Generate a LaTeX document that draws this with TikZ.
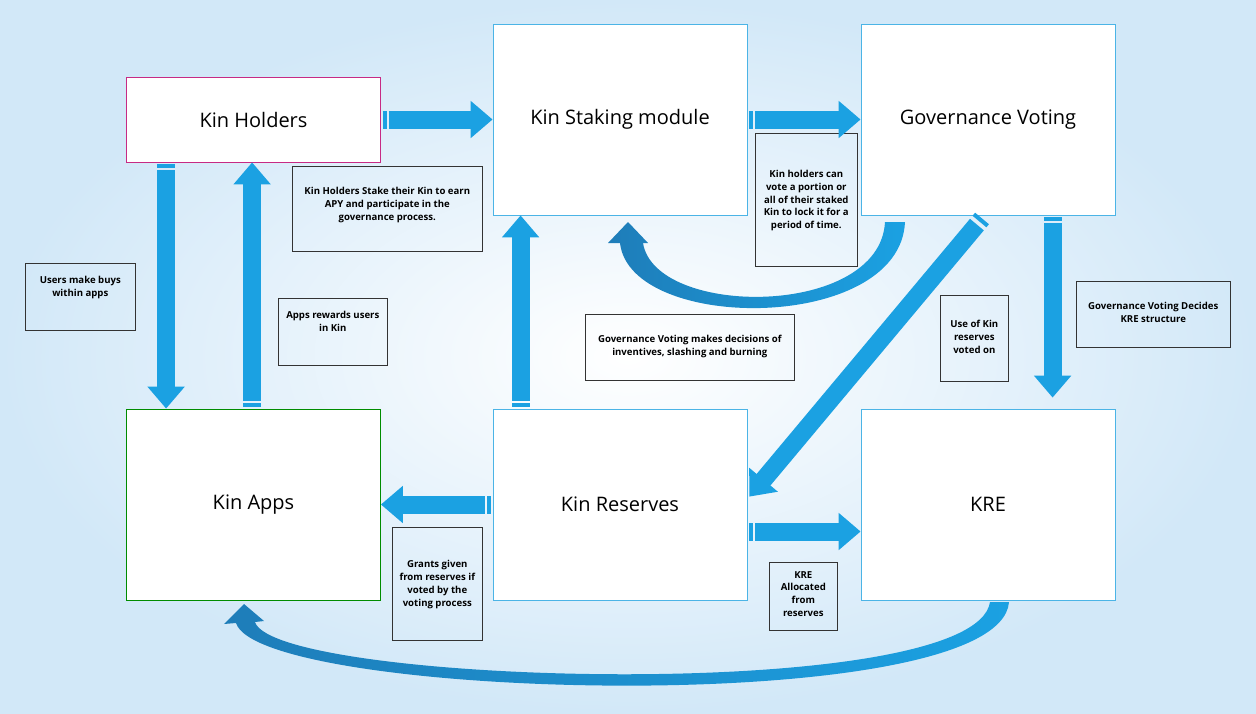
\documentclass[tikz,border=0pt]{standalone}
\usepackage{fontspec}
\setmainfont{Open Sans}
\usetikzlibrary{arrows.meta,calc}
\definecolor{ab}{RGB}{27,161,226}
\definecolor{abd}{RGB}{30,125,185}
\definecolor{bgo}{RGB}{210,232,248}
\definecolor{bx}{RGB}{75,180,230}
\newcommand\labx[6]{\node[lab,anchor=north west] (#1) at (#2,#3) {\begin{minipage}[t][#5pt][t]{#4pt}\centering\vspace{9pt}#6\end{minipage}};}
\begin{document}
\begin{tikzpicture}[x=1pt,y=-1pt,
 big/.style={draw=bx,fill=white,line width=0.8pt,minimum width=254pt,minimum height=191pt,inner sep=0pt,font=\fontsize{20}{24}\selectfont},
 lab/.style={draw=black!80,line width=0.6pt,inner sep=0pt,font=\bfseries\fontsize{9.6}{12.8}\selectfont},
 blk/.style={draw=ab,line width=18pt,-{Triangle[width=36pt,length=22pt]}},
 tl/.style={draw=ab,line width=18pt}]
\useasboundingbox (0,0) rectangle (1256,713);
\shade[inner color=white,outer color=bgo] (0,0) rectangle (1256,713);
% big boxes
\node[big,draw=magenta!80!black,minimum height=85pt] (holders) at (253.5,119.5) {Kin Holders};
\node[big] (staking) at (620,119.5) {Kin Staking module};
\node[big] (gov) at (988,119.5) {Governance Voting};
\node[big,draw=green!55!black] (apps) at (253.5,504.5) {Kin Apps};
\node[big] (res) at (620,504.5) {Kin Reserves};
\node[big] (kre) at (988,504.5) {KRE};
% labels
\labx{l1}{25}{263}{110}{67}{\vspace{4pt}Users make buys\\within apps}
\labx{l2}{278}{298}{109}{67}{\vspace{4pt}Apps rewards users\\in Kin}
\labx{l3}{292}{166}{190}{85}{\vspace{12pt}Kin Holders Stake their Kin to earn\\APY and participate in the\\governance process.}
\labx{l4}{755}{133}{102}{133}{\vspace{28pt}Kin holders can\\vote a portion or\\all of their staked\\Kin to lock it for a\\period of time.}
\labx{l5}{585}{314}{209}{66}{\vspace{12pt}Governance Voting makes decisions of\\inventives, slashing and burning}
\labx{l6}{940}{295}{68}{86}{\vspace{16pt}Use of Kin\\reserves\\voted on}
\labx{l7}{1076}{281}{154}{66}{\vspace{12pt}Governance Voting Decides\\KRE structure}
\labx{l8}{392}{527}{90}{113}{\vspace{24pt}Grants given\\from reserves if\\voted by the\\voting process}
\labx{l9}{769}{562}{68}{68}{KRE\\Allocated\\from\\reserves}
% block arrows
\draw[tl] ($(holders.east)+(2,0)$) -- ++(4,0);
\draw[blk] ($(holders.east)+(8,0)$) -- (staking.west);
\draw[tl] ($(staking.east)+(2,0)$) -- ++(4,0);
\draw[blk] ($(staking.east)+(8,0)$) -- (gov.west);
\draw[tl] ($(holders.south west)+(40,2)$) -- ++(0,4);
\draw[blk] ($(holders.south west)+(40,8)$) -- ($(apps.north west)+(40,0)$);
\draw[tl] ($(apps.north west)+(126,-2)$) -- ++(0,-4);
\draw[blk] ($(apps.north west)+(126,-8)$) -- ($(holders.south west)+(126,0)$);
\draw[tl] ($(res.north west)+(28,-2)$) -- ++(0,-4);
\draw[blk] ($(res.north west)+(28,-8)$) -- ($(staking.south west)+(28,0)$);
\draw[tl] ($(gov.south west)+(192,2)$) -- ++(0,4);
\draw[blk] ($(gov.south west)+(192,8)$) -- ($(kre.north west)+(192,-11)$);
\draw[tl] ($(res.west)+(-2,0)$) -- ++(-4,0);
\draw[blk] ($(res.west)+(-8,0)$) -- (apps.east);
\draw[tl] ($(res.east)+(2,27)$) -- ++(4,0);
\draw[blk] ($(res.east)+(8,27)$) -- ($(kre.west)+(0,27)$);
\coordinate (d1) at ($(gov.south west)+(124,0)$);
\coordinate (d2) at ($(res.north east)+(2,88)$);
\draw[tl] ($(d1)!4pt!(d2)$) -- ($(d1)!8pt!(d2)$);
\draw[blk] ($(d1)!12pt!(d2)$) -- (d2);
% curved arrows
\shade[left color=abd,right color=ab] (905,222) .. controls (900,333) and (630,333) .. (620,243) -- (608,243) -- (628,222) -- (648,243) -- (643,243)
  .. controls (655,318) and (880,318) .. (885,222) -- cycle;
\shade[left color=abd,right color=ab] (1009,602) .. controls (1000,720) and (260,700) .. (236,623) -- (224,624) -- (244,604) -- (264,621) -- (255,622)
  .. controls (275,685) and (975,705) .. (990,602) -- cycle;
\end{tikzpicture}
\end{document}
